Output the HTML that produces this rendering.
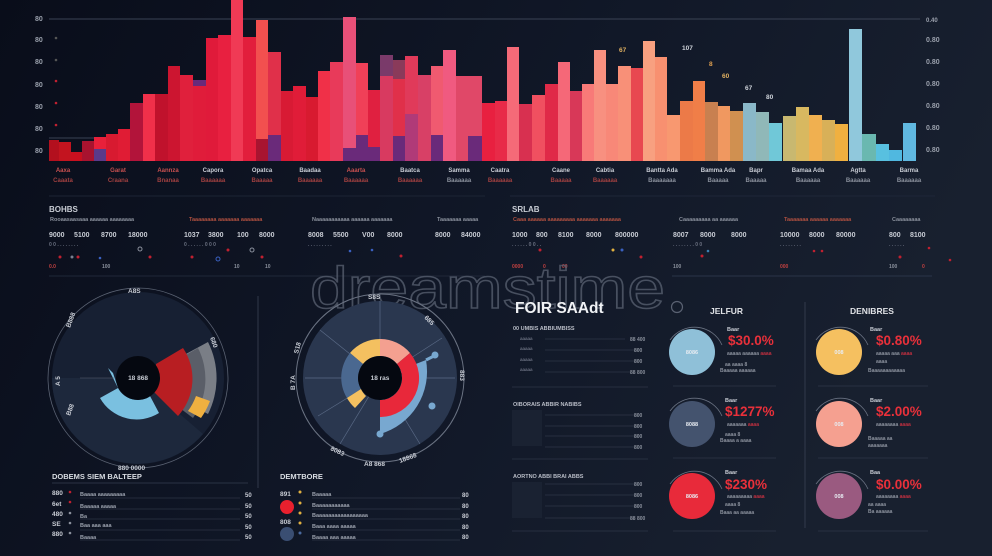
<!DOCTYPE html>
<html><head><meta charset="utf-8"><style>
html,body{margin:0;padding:0;background:#0c1120;}
svg{display:block;font-family:"Liberation Sans",sans-serif;}
</style></head><body>
<svg width="992" height="556" viewBox="0 0 992 556" xmlns="http://www.w3.org/2000/svg">
<defs>
<linearGradient id="bg" x1="0" y1="0" x2="1" y2="0.3">
<stop offset="0" stop-color="#090d1a"/><stop offset="0.6" stop-color="#111828"/><stop offset="1" stop-color="#18202f"/>
</linearGradient>
</defs>
<rect width="992" height="556" fill="url(#bg)"/>
<line x1="49" y1="19" x2="920" y2="19" stroke="#3a4254" stroke-width="1"/>
<line x1="49" y1="138" x2="95" y2="138" stroke="#3a4254" stroke-width="1"/>
<g fill="#9aa0ac" font-size="7" font-weight="bold">
<text x="35" y="21">80</text><text x="35" y="42">80</text><text x="35" y="64">80</text><text x="35" y="87">80</text><text x="35" y="109">80</text><text x="35" y="131">80</text><text x="35" y="153">80</text>
<text x="926" y="22" font-size="6">0.40</text><text x="926" y="42">0.80</text><text x="926" y="64">0.80</text><text x="926" y="86">0.80</text><text x="926" y="108">0.80</text><text x="926" y="130">0.80</text><text x="926" y="152">0.80</text>
</g>
<g fill="#c02030"><circle cx="56" cy="38" r="1.3" fill="#555"/><circle cx="56" cy="60" r="1.3" fill="#555"/><circle cx="56" cy="81" r="1.3"/><circle cx="56" cy="103" r="1.3"/><circle cx="56" cy="125" r="1.3"/></g>
<g>
<rect x="49" y="140" width="10" height="21" fill="#b3101e"/>
<rect x="59" y="142" width="12" height="19" fill="#c3141f"/>
<rect x="71" y="152" width="11" height="9" fill="#c8101f"/>
<rect x="82" y="141" width="12" height="20" fill="#a8132f"/>
<rect x="94" y="137" width="12" height="24" fill="#e8203a"/>
<rect x="94" y="149" width="12" height="12" fill="#5a3a8a"/>
<rect x="106" y="134" width="12" height="27" fill="#d81a30"/>
<rect x="118" y="129" width="12" height="32" fill="#e01c34"/>
<rect x="130" y="103" width="13" height="58" fill="#b2143a"/>
<rect x="143" y="94" width="12" height="67" fill="#f0304a"/>
<rect x="155" y="94" width="13" height="67" fill="#c0122c"/>
<rect x="168" y="66" width="12" height="95" fill="#cc1530"/>
<rect x="180" y="75" width="13" height="86" fill="#e0203c"/>
<rect x="193" y="80" width="13" height="81" fill="#e01c3a"/>
<rect x="193" y="80" width="13" height="6" fill="#6a2a7a"/>
<rect x="206" y="38" width="12" height="123" fill="#e01a3a"/>
<rect x="218" y="35" width="13" height="126" fill="#e82040"/>
<rect x="231" y="0" width="12" height="161" fill="#f03a55"/>
<rect x="243" y="37" width="13" height="124" fill="#e21e3c"/>
<rect x="256" y="20" width="12" height="141" fill="#f2504f"/>
<rect x="256" y="139" width="12" height="22" fill="#a81430"/>
<rect x="268" y="52" width="13" height="109" fill="#e0304a"/>
<rect x="268" y="135" width="13" height="26" fill="#6a2a7a"/>
<rect x="281" y="91" width="12" height="70" fill="#d81a34"/>
<rect x="293" y="86" width="13" height="75" fill="#e01c38"/>
<rect x="306" y="97" width="12" height="64" fill="#d81a30"/>
<rect x="318" y="71" width="12" height="90" fill="#f03048"/>
<rect x="330" y="62" width="13" height="99" fill="#e83a5a"/>
<rect x="343" y="17" width="13" height="144" fill="#e85078"/>
<rect x="343" y="148" width="13" height="13" fill="#6a2a7a"/>
<rect x="356" y="63" width="12" height="98" fill="#f04058"/>
<rect x="356" y="135" width="12" height="26" fill="#6a2a7a"/>
<rect x="368" y="90" width="12" height="71" fill="#e02040"/>
<rect x="368" y="147" width="12" height="14" fill="#6a2a7a"/>
<rect x="380" y="55" width="13" height="106" fill="#d83a60"/>
<rect x="380" y="55" width="13" height="21" fill="#7a3a6a"/>
<rect x="393" y="60" width="12" height="101" fill="#e0304a"/>
<rect x="393" y="60" width="12" height="19" fill="#8a3a5a"/>
<rect x="393" y="136" width="12" height="25" fill="#6a2a7a"/>
<rect x="405" y="56" width="13" height="105" fill="#e03a5a"/>
<rect x="405" y="114" width="13" height="47" fill="#b03a78"/>
<rect x="418" y="75" width="13" height="86" fill="#d84066"/>
<rect x="431" y="66" width="12" height="95" fill="#f05a70"/>
<rect x="431" y="135" width="12" height="26" fill="#6a2a7a"/>
<rect x="443" y="50" width="13" height="111" fill="#f05a80"/>
<rect x="456" y="76" width="12" height="85" fill="#e04868"/>
<rect x="468" y="76" width="14" height="85" fill="#e04868"/>
<rect x="468" y="136" width="14" height="25" fill="#6a2a7a"/>
<rect x="482" y="103" width="13" height="58" fill="#e82040"/>
<rect x="495" y="101" width="12" height="60" fill="#e82a48"/>
<rect x="507" y="47" width="12" height="114" fill="#f56a78"/>
<rect x="519" y="104" width="13" height="57" fill="#d83050"/>
<rect x="532" y="95" width="13" height="66" fill="#f05060"/>
<rect x="545" y="84" width="13" height="77" fill="#e02a48"/>
<rect x="558" y="62" width="12" height="99" fill="#f56878"/>
<rect x="570" y="91" width="12" height="70" fill="#d83858"/>
<rect x="582" y="84" width="12" height="77" fill="#f87a78"/>
<rect x="594" y="50" width="12" height="111" fill="#f89080"/>
<rect x="606" y="84" width="12" height="77" fill="#f88878"/>
<rect x="618" y="66" width="13" height="95" fill="#f89078"/>
<rect x="631" y="68" width="12" height="93" fill="#e84850"/>
<rect x="643" y="41" width="12" height="120" fill="#f8a080"/>
<rect x="655" y="57" width="12" height="104" fill="#f89070"/>
<rect x="667" y="115" width="13" height="46" fill="#f89870"/>
<rect x="680" y="101" width="13" height="60" fill="#ec7a48"/>
<rect x="693" y="81" width="12" height="80" fill="#f07e48"/>
<rect x="705" y="102" width="13" height="59" fill="#c88050"/>
<rect x="718" y="106" width="12" height="55" fill="#f09860"/>
<rect x="730" y="111" width="13" height="50" fill="#d09050"/>
<rect x="743" y="103" width="13" height="58" fill="#8ab8c8"/>
<rect x="756" y="112" width="13" height="49" fill="#90b8b8"/>
<rect x="769" y="123" width="13" height="38" fill="#70c8d8"/>
<rect x="783" y="116" width="13" height="45" fill="#c8b870"/>
<rect x="796" y="107" width="13" height="54" fill="#d8b860"/>
<rect x="809" y="115" width="13" height="46" fill="#f0b050"/>
<rect x="822" y="120" width="13" height="41" fill="#d8b058"/>
<rect x="835" y="124" width="13" height="37" fill="#f0b040"/>
<rect x="849" y="29" width="13" height="132" fill="#90c8dc"/>
<rect x="862" y="134" width="14" height="27" fill="#6ab8b0"/>
<rect x="876" y="144" width="13" height="17" fill="#58c0e0"/>
<rect x="889" y="150" width="13" height="11" fill="#50b8e0"/>
<rect x="903" y="123" width="13" height="38" fill="#60b8e0"/>
</g>
<g fill="#cfd3da" font-size="6.5" font-weight="bold">
<text x="619" y="52" fill="#e0b060">67</text><text x="682" y="50">107</text><text x="709" y="66" fill="#e0a050">8</text><text x="722" y="78" fill="#e0b060">60</text><text x="745" y="90">67</text><text x="766" y="99">80</text>
</g>
<g font-size="6" font-weight="bold" text-anchor="middle">
<g fill="#c85050"><text x="63" y="172">Aaxa</text><text x="118" y="172">Garat</text><text x="168" y="172">Aannza</text><text x="356" y="172">Aaarta</text></g>
<g fill="#c8ccd4"><text x="213" y="172">Capora</text><text x="262" y="172">Opatca</text><text x="310" y="172">Baadaa</text><text x="410" y="172">Baatca</text><text x="459" y="172">Samma</text>
<text x="500" y="172">Caatra</text><text x="561" y="172">Caane</text><text x="605" y="172">Cabtia</text><text x="662" y="172">Bantta Ada</text><text x="718" y="172">Bamma Ada</text><text x="756" y="172">Bapr</text><text x="808" y="172">Bamaa Ada</text><text x="858" y="172">Agtta</text><text x="909" y="172">Barma</text></g>
<g fill="#a04040"><text x="63" y="182">Caaata</text><text x="118" y="182">Craana</text><text x="168" y="182">Bnanaa</text><text x="213" y="182">Baaaaaa</text><text x="262" y="182">Baaaaa</text><text x="310" y="182">Baaaaaa</text><text x="356" y="182">Baaaaaa</text><text x="410" y="182">Baaaaaa</text><text x="500" y="182">Baaaaaa</text><text x="561" y="182">Baaaaa</text><text x="605" y="182">Baaaaaa</text></g>
<g fill="#8a909c"><text x="459" y="182">Baaaaaa</text><text x="662" y="182">Baaaaaaa</text><text x="718" y="182">Baaaaa</text><text x="756" y="182">Baaaaa</text><text x="808" y="182">Baaaaaa</text><text x="858" y="182">Baaaaaa</text><text x="909" y="182">Baaaaaa</text></g>
</g>
<line x1="49" y1="196" x2="485" y2="196" stroke="#1c2434"/>
<line x1="510" y1="196" x2="935" y2="196" stroke="#1e2638"/>
<line x1="49" y1="276" x2="485" y2="276" stroke="#1f2738"/>
<line x1="672" y1="276" x2="932" y2="276" stroke="#2a3448"/>
<g font-weight="bold">
<text x="49" y="212" fill="#c8ccd4" font-size="8">BOHBS</text>
<text x="512" y="212" fill="#c8ccd4" font-size="8">SRLAB</text>
<g font-size="5.5" fill="#8a909c"><text x="50" y="221">Rooaasaasaaa aaaaaa aaaaaaaa</text><text x="312" y="221">Naaaaaaaaaaa aaaaaa aaaaaaa</text><text x="437" y="221">Taaaaaaa aaaaa</text><text x="679" y="221">Caaaaaaaaa aa aaaaaa</text><text x="892" y="221">Caaaaaaaa</text></g>
<g font-size="5.5" fill="#b05040"><text x="189" y="221">Taaaaaaaa aaaaaaa aaaaaaa</text><text x="513" y="221">Caaa aaaaaa aaaaaaaaa aaaaaaa aaaaaaa</text><text x="784" y="221">Taaaaaaa aaaaaa aaaaaaa</text></g>
<g font-size="7" fill="#c8ccd4">
<text x="49" y="237">9000</text><text x="74" y="237">5100</text><text x="101" y="237">8700</text><text x="128" y="237">18000</text>
<text x="184" y="237">1037</text><text x="208" y="237">3800</text><text x="237" y="237">100</text><text x="259" y="237">8000</text>
<text x="308" y="237">8008</text><text x="333" y="237">5500</text><text x="362" y="237">V00</text><text x="387" y="237">8000</text>
<text x="435" y="237">8000</text><text x="461" y="237">84000</text>
<text x="512" y="237">1000</text><text x="536" y="237">800</text><text x="558" y="237">8100</text><text x="586" y="237">8000</text><text x="615" y="237">800000</text>
<text x="673" y="237">8007</text><text x="700" y="237">8000</text><text x="731" y="237">8000</text>
<text x="780" y="237">10000</text><text x="809" y="237">8000</text><text x="836" y="237">80000</text>
<text x="889" y="237">800</text><text x="910" y="237">8100</text>
</g>
<g font-size="5" fill="#6a7080"><text x="49" y="246">0 0 . .   .  . . .  .   .</text><text x="184" y="246">0  . .  .  . . . 0 0 0</text><text x="308" y="246">. . .   .    . .  . . .</text><text x="512" y="246">. . .  .  . .  0 0  . .</text><text x="673" y="246">. . .   . . . .  . 0 0</text><text x="780" y="246">. . . . .  . . .</text><text x="889" y="246">. . .  . . .</text></g>
<g font-size="5" fill="#c04040"><text x="49" y="268">0.0</text><text x="102" y="268" fill="#8a909c">100</text><text x="234" y="268" fill="#8a909c">10</text><text x="265" y="268" fill="#8a909c">10</text><text x="512" y="268">0000</text><text x="543" y="268">0</text><text x="562" y="268">00</text><text x="673" y="268" fill="#8a909c">100</text><text x="780" y="268">000</text><text x="889" y="268" fill="#8a909c">100</text><text x="922" y="268">0</text></g>
</g>
<g>
<circle cx="60" cy="257" r="1.5" fill="#c02030"/><circle cx="72" cy="257" r="1.5" fill="#7a8090"/><circle cx="78" cy="257" r="1.5" fill="#c02030"/><circle cx="100" cy="258" r="1.3" fill="#3a60c0"/><circle cx="150" cy="257" r="1.5" fill="#c02030"/><circle cx="140" cy="249" r="2" fill="none" stroke="#8a909c"/>
<circle cx="192" cy="257" r="1.5" fill="#c02030"/><circle cx="218" cy="259" r="2" fill="none" stroke="#3a60c0"/><circle cx="228" cy="250" r="1.5" fill="#c02030"/><circle cx="252" cy="250" r="2" fill="none" stroke="#8a909c"/><circle cx="262" cy="257" r="1.5" fill="#c02030"/>
<circle cx="350" cy="251" r="1.3" fill="#3a60c0"/><circle cx="372" cy="250" r="1.3" fill="#3a60c0"/><circle cx="401" cy="256" r="1.5" fill="#c02030"/>
<circle cx="540" cy="250" r="1.5" fill="#c02030"/><circle cx="613" cy="250" r="1.5" fill="#e0b040"/><circle cx="622" cy="250" r="1.5" fill="#3a60c0"/><circle cx="641" cy="257" r="1.5" fill="#c02030"/>
<circle cx="702" cy="256" r="1.5" fill="#c02030"/><circle cx="708" cy="251" r="1.3" fill="#3a80b0"/><circle cx="814" cy="251" r="1.3" fill="#c02030"/><circle cx="822" cy="251" r="1.3" fill="#c02030"/>
<circle cx="900" cy="257" r="1.5" fill="#c02030"/><circle cx="929" cy="248" r="1.3" fill="#c02030"/><circle cx="950" cy="260" r="1.3" fill="#c02030"/>
</g>
<!-- watermark -->
<text x="310" y="308" font-size="58" textLength="355" lengthAdjust="spacingAndGlyphs" fill="none" stroke="#5a6272" stroke-width="1.5" opacity="0.75">dreamstime</text>
<circle cx="677" cy="307" r="5.5" fill="none" stroke="#5a6272" stroke-width="1.2"/>
<!-- pie 1 -->
<g transform="translate(138,378)">
<circle r="90" fill="none" stroke="#5a6272" stroke-width="0.8"/>
<circle r="86" fill="#172033"/>
<path d="M0 0 L-86 0 A86 86 0 0 0 65 56 Z" fill="#1d283c"/>
<path d="M22 -10 L70 -36 A80 80 0 0 1 70 36 L22 10 Z" fill="#7a7e86"/>
<path d="M22 -8 L60 -30 A68 68 0 0 1 55 40 L18 12 Z" fill="#5a5e68"/>
<path d="M18 -14 L45 -30 A55 55 0 0 1 40 38 L16 14 Z" fill="#b81e22"/>
<path d="M50 33 A60 60 0 0 0 58 18 L72 23 A76 76 0 0 1 63 40 Z" fill="#f0b040"/>
<path d="M12 18 A22 22 0 0 1 -20 10 L-38 20 A42 42 0 0 0 21 35 Z" fill="#7ac0e0"/>
<path d="M-20 10 L-30 -10 L-25 -5 Z" fill="#7ac0e0"/>
<circle r="22" fill="#050810"/>
<text y="2" text-anchor="middle" font-size="6.5" fill="#c8ccd4" font-weight="bold">18 868</text>
<line x1="-58" y1="0" x2="-24" y2="0" stroke="#5a6272" stroke-width="0.6"/>
<text x="-10" y="-85" font-size="6.5" fill="#c8ccd4" font-weight="bold">A8S</text>
<text x="-68" y="-50" font-size="6.5" fill="#c8ccd4" font-weight="bold" transform="rotate(-70 -68 -50)">B888</text>
<text x="-78" y="8" font-size="6.5" fill="#c8ccd4" font-weight="bold" transform="rotate(-90 -78 8)">A 5</text>
<text x="-68" y="38" font-size="6.5" fill="#c8ccd4" font-weight="bold" transform="rotate(-70 -68 38)">B88</text>
<text x="72" y="-40" font-size="6.5" fill="#c8ccd4" font-weight="bold" transform="rotate(70 72 -40)">680</text>
<text x="-20" y="92" font-size="6.5" fill="#c8ccd4" font-weight="bold">880 0000</text>
</g>
<line x1="258" y1="296" x2="258" y2="488" stroke="#3a4254" stroke-width="0.8"/>
<!-- pie 2 -->
<g transform="translate(380,378)">
<circle r="84" fill="none" stroke="#6a7282" stroke-width="1"/>
<circle r="77" fill="#2a374f"/>
<g stroke="#5a6a86" stroke-width="0.7"><line x1="0" y1="0" x2="0" y2="-77"/><line x1="0" y1="0" x2="-60" y2="-48"/><line x1="0" y1="0" x2="62" y2="-40"/><line x1="0" y1="0" x2="-62" y2="38"/><line x1="0" y1="0" x2="-40" y2="66"/><line x1="0" y1="0" x2="40" y2="66"/><line x1="0" y1="0" x2="-75" y2="0"/><line x1="0" y1="0" x2="75" y2="0"/></g>
<path d="M0 0 L46 -18 A65 65 0 0 1 0 56 Z" fill="#78a8d0"/>
<path d="M46 -18 L56 -23" stroke="#78a8d0" stroke-width="3"/>
<circle cx="55" cy="-23" r="3.5" fill="#78a8d0"/><circle cx="52" cy="28" r="3.5" fill="#78a8d0"/><circle cx="0" cy="56" r="3.5" fill="#78a8d0"/>
<path d="M0 -39 A39 39 0 0 1 30 -25 L17 -14 A22 22 0 0 0 0 -22 Z" fill="#f4a090"/>
<path d="M30 -25 A39 39 0 0 1 0 39 L0 22 A22 22 0 0 0 17 -14 Z" fill="#e8283a"/>
<path d="M-30 -25 A39 39 0 0 1 0 -39 L0 -22 A22 22 0 0 0 -17 -14 Z" fill="#f4c060"/>
<path d="M-30 -25 A39 39 0 0 0 -33 20 L-19 11 A22 22 0 0 1 -17 -14 Z" fill="#4a6890"/>
<path d="M-33 20 A39 39 0 0 0 -25 30 L-14 18 A22 22 0 0 1 -19 11 Z" fill="#f4c060"/>
<circle r="22" fill="#050810"/>
<text y="2" text-anchor="middle" font-size="6.5" fill="#c8ccd4" font-weight="bold">18 ras</text>
<text x="-12" y="-79" font-size="6.5" fill="#c8ccd4" font-weight="bold">S8S</text>
<text x="44" y="-60" font-size="6.5" fill="#c8ccd4" font-weight="bold" transform="rotate(45 44 -60)">685</text>
<text x="-82" y="-24" font-size="6.5" fill="#c8ccd4" font-weight="bold" transform="rotate(-75 -82 -24)">S18</text>
<text x="-85" y="12" font-size="6.5" fill="#c8ccd4" font-weight="bold" transform="rotate(-90 -85 12)">B 7A</text>
<text x="80" y="-8" font-size="6.5" fill="#c8ccd4" font-weight="bold" transform="rotate(90 80 -8)">883</text>
<text x="-50" y="72" font-size="6.5" fill="#c8ccd4" font-weight="bold" transform="rotate(25 -50 72)">8083</text>
<text x="-16" y="88" font-size="6.5" fill="#c8ccd4" font-weight="bold">A8 868</text>
<text x="20" y="85" font-size="6.5" fill="#c8ccd4" font-weight="bold" transform="rotate(-20 20 85)">18868</text>
</g>
<!-- bottom left lists -->
<g font-weight="bold">
<text x="52" y="479" font-size="7.5" fill="#d8dce2">DOBEMS SIEM BALTEEP</text>
<text x="280" y="479" font-size="7.5" fill="#d8dce2">DEMTBORE</text>
<line x1="52" y1="483" x2="248" y2="483" stroke="#2a3244"/>
<g font-size="6.5" fill="#c8ccd4"><text x="52" y="495">880</text><text x="52" y="506">6et</text><text x="52" y="516">480</text><text x="52" y="526">SE</text><text x="52" y="536">880</text><text x="280" y="496">891</text><text x="280" y="524">808</text></g>
<g font-size="5.5" fill="#9aa0ac"><text x="80" y="496">Baaaa aaaaaaaaa</text><text x="80" y="508">Baaaaa aaaaa</text><text x="80" y="518">Ba</text><text x="80" y="527">Baa aaa aaa</text><text x="80" y="539">Baaaa</text>
<text x="312" y="496">Baaaaa</text><text x="312" y="507">Baaaaaaaaaaa</text><text x="312" y="517">Baaaaaaaaaaaaaaaaa</text><text x="312" y="528">Baaa aaaa aaaaa</text><text x="312" y="539">Baaaa aaa aaaaa</text></g>
<g stroke="#3a4254" stroke-width="0.6"><line x1="80" y1="498" x2="240" y2="498"/><line x1="80" y1="509" x2="240" y2="509"/><line x1="80" y1="519" x2="240" y2="519"/><line x1="80" y1="530" x2="240" y2="530"/><line x1="80" y1="540" x2="240" y2="540"/>
<line x1="312" y1="498" x2="460" y2="498"/><line x1="312" y1="509" x2="460" y2="509"/><line x1="312" y1="519" x2="460" y2="519"/><line x1="312" y1="530" x2="460" y2="530"/><line x1="312" y1="540" x2="460" y2="540"/></g>
<g font-size="6" fill="#c8ccd4"><text x="245" y="497">50</text><text x="245" y="508">50</text><text x="245" y="518">50</text><text x="245" y="529">50</text><text x="245" y="539">50</text><text x="462" y="497">80</text><text x="462" y="508">80</text><text x="462" y="518">80</text><text x="462" y="529">80</text><text x="462" y="539">80</text></g>
<circle cx="70" cy="492" r="1.3" fill="#c02030"/><circle cx="70" cy="502" r="1.3" fill="#c02030"/><circle cx="70" cy="513" r="1.3" fill="#8a909c"/><circle cx="70" cy="523" r="1.3" fill="#8a909c"/><circle cx="70" cy="533" r="1.3" fill="#8a909c"/>
<circle cx="287" cy="507" r="7" fill="#e8202e"/><circle cx="287" cy="534" r="7" fill="#3a4e72"/>
<circle cx="300" cy="492" r="1.5" fill="#e0b040"/><circle cx="300" cy="503" r="1.5" fill="#e0b040"/><circle cx="300" cy="513" r="1.5" fill="#e0b040"/><circle cx="300" cy="523" r="1.5" fill="#e0b040"/><circle cx="300" cy="533" r="1.5" fill="#4a6aa0"/>
</g>
<!-- right panel -->
<g font-weight="bold">
<text x="515" y="313" font-size="15.5" fill="#f0f2f5">FOIR SAAdt</text>
<text x="710" y="314" font-size="8.5" fill="#e0e2e6">JELFUR</text>
<text x="850" y="314" font-size="8.5" fill="#e0e2e6">DENIBRES</text>
<g font-size="5.5" fill="#b8bcc6"><text x="513" y="330">00 UMBIS ABBIUMBISS</text><text x="513" y="406">OIBORAIS ABBIR NABIBS</text><text x="513" y="478">AORTNO ABBI BRAI ABBS</text></g>
<g font-size="4.5" fill="#6a7080"><text x="520" y="340">aaaaa</text><text x="520" y="350">aaaaa</text><text x="520" y="361">aaaaa</text><text x="520" y="371">aaaaa</text><text x="520" y="415">aaaaa</text><text x="520" y="487">aaaaa</text></g>
<g stroke="#3a4254" stroke-width="0.6">
<line x1="545" y1="339" x2="625" y2="339"/><line x1="545" y1="350" x2="640" y2="350"/><line x1="545" y1="361" x2="640" y2="361"/><line x1="545" y1="372" x2="630" y2="372"/>
<line x1="545" y1="415" x2="640" y2="415"/><line x1="545" y1="426" x2="640" y2="426"/><line x1="545" y1="436" x2="640" y2="436"/><line x1="545" y1="447" x2="635" y2="447"/>
<line x1="545" y1="484" x2="640" y2="484"/><line x1="545" y1="495" x2="640" y2="495"/><line x1="545" y1="506" x2="640" y2="506"/><line x1="545" y1="518" x2="635" y2="518"/>
<line x1="512" y1="387" x2="648" y2="387"/><line x1="512" y1="459" x2="648" y2="459"/><line x1="512" y1="531" x2="648" y2="531"/>
<line x1="673" y1="386" x2="776" y2="386"/><line x1="673" y1="458" x2="776" y2="458"/><line x1="673" y1="531" x2="776" y2="531"/>
<line x1="818" y1="386" x2="928" y2="386"/><line x1="818" y1="458" x2="928" y2="458"/><line x1="818" y1="531" x2="928" y2="531"/>
</g>
<rect x="512" y="410" width="30" height="36" fill="#1a2232"/><rect x="512" y="482" width="30" height="36" fill="#1a2232"/>
<g font-size="5" fill="#8a909c"><text x="630" y="341">88 400</text><text x="634" y="352">800</text><text x="634" y="363">800</text><text x="630" y="374">88 800</text><text x="634" y="417">800</text><text x="634" y="428">800</text><text x="634" y="438">800</text><text x="634" y="449">800</text><text x="634" y="486">800</text><text x="634" y="497">800</text><text x="634" y="508">800</text><text x="630" y="520">88 800</text></g>
<line x1="805" y1="302" x2="805" y2="528" stroke="#3a4254" stroke-width="0.8"/>
<g fill="none" stroke="#6a7282" stroke-width="0.8">
<path d="M670 340 A30 30 0 0 1 722 345"/><path d="M670 411 A30 30 0 0 1 722 416"/><path d="M670 484 A30 30 0 0 1 722 489"/>
<path d="M816 340 A30 30 0 0 1 868 345"/><path d="M816 411 A30 30 0 0 1 868 416"/><path d="M816 484 A30 30 0 0 1 868 489"/>
</g>
<circle cx="692" cy="352" r="23" fill="#8fc0d8"/><circle cx="692" cy="424" r="23" fill="#44536e"/><circle cx="692" cy="496" r="23" fill="#e82a3a"/>
<circle cx="839" cy="352" r="23" fill="#f5c060"/><circle cx="839" cy="424" r="23" fill="#f5a090"/><circle cx="839" cy="496" r="23" fill="#9a5a80"/>
<g font-size="5.5" fill="#e8ecf2" text-anchor="middle"><text x="692" y="354">8086</text><text x="692" y="426">8088</text><text x="692" y="498">8086</text><text x="839" y="354">008</text><text x="839" y="426">008</text><text x="839" y="498">008</text></g>
<g font-size="5.5" fill="#c8ccd4"><text x="727" y="331">Baar</text><text x="725" y="402">Baar</text><text x="725" y="474">Baar</text><text x="870" y="331">Baar</text><text x="870" y="402">Baar</text><text x="870" y="474">Baa</text></g>
<g font-size="13.5" fill="#e8303a"><text x="728" y="345">$30.0%</text><text x="725" y="416">$1277%</text><text x="725" y="489">$230%</text><text x="876" y="345">$0.80%</text><text x="876" y="416">$2.00%</text><text x="876" y="489">$0.00%</text></g>
<g font-size="5" fill="#8a909c"><text x="727" y="355">aaaaa aaaaaa <tspan fill="#c03040">aaaa</tspan></text><text x="725" y="366">aa aaaa 8</text><text x="720" y="372">Baaaaa aaaaaa</text>
<text x="727" y="426">aaaaaaa <tspan fill="#c03040">aaaa</tspan></text><text x="725" y="436">aaaa 8</text><text x="720" y="442">Baaaa a aaaa</text>
<text x="727" y="498">aaaaaaaaa <tspan fill="#c03040">aaaa</tspan></text><text x="725" y="506">aaaa 8</text><text x="720" y="514">Baaa aa aaaaa</text>
<text x="876" y="355">aaaaa aaa <tspan fill="#c03040">aaaa</tspan></text><text x="876" y="363">aaaa</text><text x="868" y="372">Baaaaaaaaaaaa</text>
<text x="876" y="426">aaaaaaaa <tspan fill="#c03040">aaaa</tspan></text><text x="868" y="440">Baaaaa  aa</text><text x="868" y="447">aaaaaaa</text>
<text x="876" y="498">aaaaaaaa <tspan fill="#c03040">aaaa</tspan></text><text x="868" y="506">aa aaaa</text><text x="868" y="513">Ba aaaaaa</text></g>
</g>
</svg>
</body></html>
